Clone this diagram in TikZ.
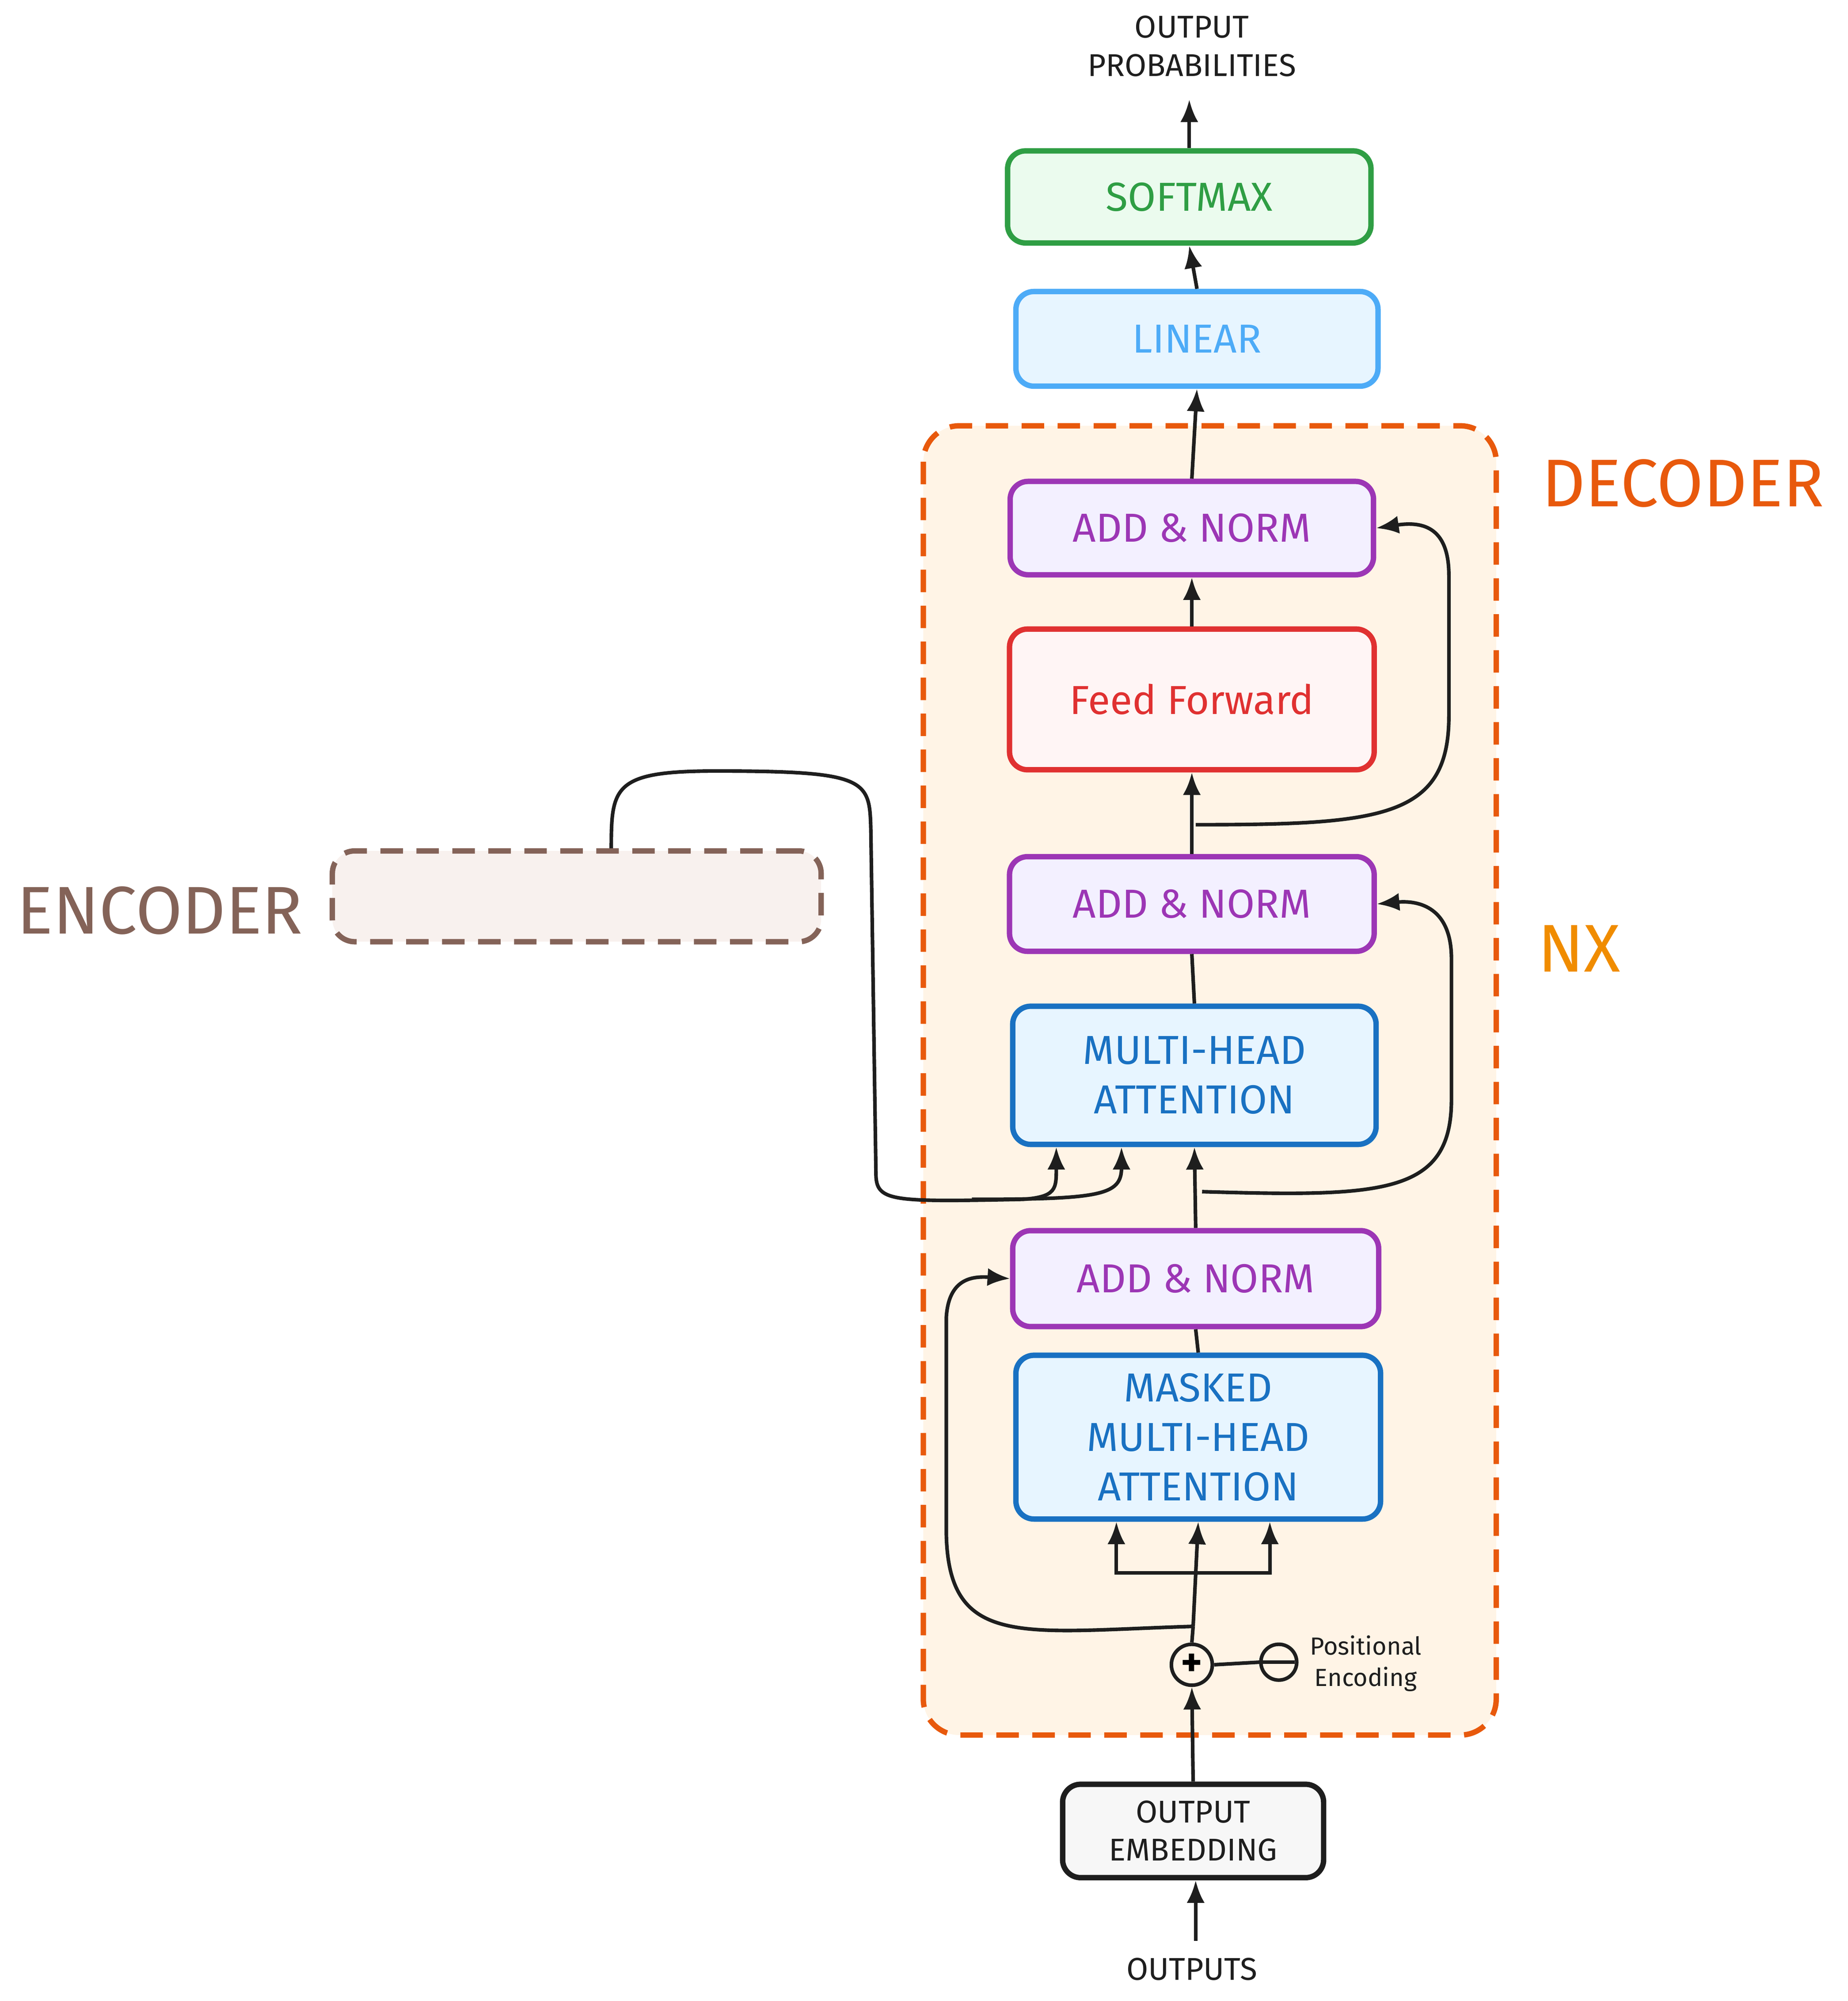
\documentclass[tikz,border=0pt]{standalone}
\usepackage{fontspec}
\setmainfont{Fira Sans}
\usetikzlibrary{arrows.meta,calc}
\definecolor{cgreen}{HTML}{2F9E44}\definecolor{fgreen}{HTML}{EBFBEE}
\definecolor{cblue}{HTML}{4DABF7}\definecolor{fblue}{HTML}{E7F5FF}
\definecolor{cdblue}{HTML}{1971C2}
\definecolor{cpurple}{HTML}{9C36B5}\definecolor{fpurple}{HTML}{F3F0FF}
\definecolor{cred}{HTML}{E03131}\definecolor{fred}{HTML}{FFF5F5}
\definecolor{corange}{HTML}{E8590C}\definecolor{forange}{HTML}{FFF4E6}
\definecolor{cnx}{HTML}{F08C00}
\definecolor{cbrown}{HTML}{846358}\definecolor{fbrown}{HTML}{F8F1EE}
\definecolor{cink}{HTML}{1E1E1E}
\tikzset{
  box/.style={draw=#1, line width=1.2pt, rounded corners=4pt, text=#1, align=center,
    font=\fontsize{9}{11}\selectfont},
  wire/.style={draw=cink, line width=0.8pt},
  arr/.style={wire, -{Latex[length=5pt,width=4pt]}},
  lbl/.style={text=cink, align=center, font=\fontsize{7}{8.5}\selectfont},
  big/.style={text=#1, font=\fontsize{15}{17}\selectfont},
}
\begin{document}
\begin{tikzpicture}[x=0.01cm,y=-0.01cm]
\useasboundingbox (0,0) rectangle (1445,1565);
% decoder frame
\draw[corange, fill=forange, line width=1.2pt, dash pattern=on 5pt off 3pt, rounded corners=8pt]
  (722,333) rectangle (1170,1357);
\node[big=corange] (declbl) at (1316,378) {DECODER};
\node[big=cnx] (nx) at (1235,742) {NX};
% encoder
\node[big=cbrown] (enclbl) at (125,712) {ENCODER};
\node[draw=cbrown, fill=fbrown, line width=1.2pt, dash pattern=on 5pt off 3pt, rounded corners=5pt,
  minimum width=3.82cm, minimum height=0.71cm] (enc) at (451,701) {};
% blocks
\node[box=cgreen, fill=fgreen, minimum width=2.84cm, minimum height=0.72cm] (soft) at (930,154) {SOFTMAX};
\node[box=cblue, fill=fblue, minimum width=2.83cm, minimum height=0.74cm] (lin) at (936,265) {LINEAR};
\node[box=cpurple, fill=fpurple, minimum width=2.84cm, minimum height=0.73cm] (an1) at (932,413) {ADD \& NORM};
\node[box=cred, fill=fred, minimum width=2.85cm, minimum height=1.10cm] (ff) at (932,547) {Feed Forward};
\node[box=cpurple, fill=fpurple, minimum width=2.85cm, minimum height=0.74cm] (an2) at (932,707) {ADD \& NORM};
\node[box=cdblue, fill=fblue, minimum width=2.84cm, minimum height=1.08cm] (mha) at (934,841) {MULTI-HEAD\\ATTENTION};
\node[box=cpurple, fill=fpurple, minimum width=2.86cm, minimum height=0.75cm] (an3) at (935,1000) {ADD \& NORM};
\node[box=cdblue, fill=fblue, minimum width=2.85cm, minimum height=1.28cm] (mmha) at (937,1124) {MASKED\\MULTI-HEAD\\ATTENTION};
\node[box=cink, fill=black!3, font=\fontsize{7}{8.5}\selectfont, minimum width=2.04cm, minimum height=0.73cm] (emb) at (933,1432) {OUTPUT\\EMBEDDING};
% texts
\node[lbl] (prob) at (932,36) {OUTPUT\\PROBABILITIES};
\node[lbl] (outs) at (932,1540) {OUTPUTS};
\node[draw=cink, circle, line width=0.8pt, minimum size=0.32cm, inner sep=0pt, font=\small\bfseries] (plus) at (932,1302) {+};
\node[draw=cink, circle, line width=0.8pt, minimum size=0.28cm, inner sep=0pt] (pe) at (1000,1300) {};
\draw[wire] (pe.west) -- ++(28,0) coordinate (pe0);
\node[lbl, font=\fontsize{5.5}{7}\selectfont] (pelbl) at (1068,1301) {Positional\\Encoding};
% connectors
\coordinate (tap) at (933,1272);
\coordinate (res1) at (940,932);
\coordinate (res2) at (935,645);
\coordinate (inp) at (935,1518);
\draw[arr] (inp) -- (inp |- emb.south);
\draw[arr] (emb.north) -- (plus.south);
\draw[wire] (plus.east) -- (pe.west);
\draw[wire] (plus.north) -- (tap);
\draw[arr] (tap) -- (mmha.south);
\draw[arr] (933,1230) -| ($(mmha.south)+(-64,0)$);
\draw[arr] (933,1230) -| ($(mmha.south)+(56,0)$);
\draw[arr] (tap) .. controls (800,1276) and (742,1290) .. (740,1200) -- (740,1030)
  .. controls (742,1000) and (760,998) .. (an3.west);
\draw[wire] (mmha.north) -- (an3.south);
\draw[arr] (an3.north) -- (mha.south);
\draw[arr] (res1) .. controls (1080,936) and (1135,935) .. (1135,860) -- (1135,750)
  .. controls (1135,710) and (1110,704) .. (an2.east);
\draw[arr] (enc.north -| 478,0) .. controls (478,615) and (480,603) .. (560,603)
  .. controls (680,603) and (680,610) .. (681,650) -- (685,920)
  .. controls (686,940) and (700,940) .. (800,938)
  .. controls (826,936) and (826,930) .. ($(mha.south)+(-108,0)$);
\draw[arr] (760,938) .. controls (860,938) and (877,935) .. ($(mha.south)+(-57,0)$);
\draw[wire] (mha.north) -- (an2.south);
\draw[arr] (an2.north) -- (ff.south);
\draw[arr] (res2) .. controls (1080,645) and (1133,640) .. (1133,560) -- (1133,450)
  .. controls (1133,410) and (1110,408) .. (an1.east);
\draw[arr] (ff.north) -- (an1.south);
\draw[arr] (an1.north) -- (lin.south);
\draw[arr] (lin.north) -- (soft.south);
\draw[arr] (soft.north) -- ++(0,-38) coordinate (top);
\end{tikzpicture}
\end{document}
